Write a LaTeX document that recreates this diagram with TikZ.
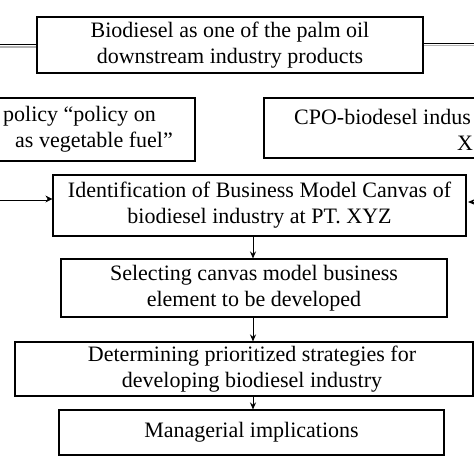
\documentclass[tikz,border=0pt]{standalone}
\usepackage{fontspec}
\setmainfont{Liberation Serif}
\usetikzlibrary{positioning,arrows.meta}

\begin{document}
\begin{tikzpicture}[
        x=1pt, y=-1pt,
        every node/.style={font=\fontsize{22}{26}\selectfont},
        box/.style={draw, line width=1.1pt, align=center, inner sep=0pt},
        cut/.style={inner sep=0pt, anchor=base west},
        arr/.style={-{Stealth[length=7pt, width=6pt]}, line width=1pt},
        dblarr/.style={-{Stealth[length=7pt, width=7pt]}, double, double distance=1.6pt, line width=0.7pt},
        link/.style={line width=1pt},
        shadow/.style={draw=black!30, line width=1.6pt}
    ]
    \useasboundingbox (0,0) rectangle (474,474);
    \clip (0,0) rectangle (474,474);

    \node[box, minimum width=386pt, minimum height=56pt] (biodiesel) at (230,45) {Biodiesel as one of the palm oil\\downstream industry products};

    \node[box, minimum width=265pt, minimum height=63pt] (policy) at (62.5,129.5) {};
    \node[cut] (policy1) at (3,121) {policy “policy on};
    \node[cut] (policy2) at (15,147) {as vegetable fuel”};

    \node[box, minimum width=276pt, minimum height=60pt] (cpo) at (402,128) {};
    \node[cut] (cpo1) at (294,124) {CPO-biodesel indus};
    \node[cut] (cpo2) at (457,150) {X};

    \node[box, minimum width=413pt, minimum height=61pt] (ident) at (259.5,205.5) {Identification of Business Model Canvas of\\biodiesel industry at PT. XYZ};
    \node[box, minimum width=386pt, minimum height=58pt] (select) at (254,288) {Selecting canvas model business\\element to be developed};
    \node[box, minimum width=458pt, minimum height=54pt] (determ) at (244,369) {\hspace{16pt}Determining prioritized strategies for\\\hspace{16pt}developing biodiesel industry};
    \node[box, minimum width=385pt, minimum height=45pt] (manag) at (251.5,432.5) {Managerial implications};

    % free ends at the page edges
    \coordinate (lefttop) at (-5,44);
    \coordinate (righttop) at (480,43.5);
    \coordinate (leftin) at (-5,199);
    \coordinate (rightin) at (480,202);
    \coordinate (axis) at (253,0);

    \draw[shadow] ([yshift=-3pt]lefttop) -- ([yshift=-3pt]lefttop -| biodiesel.west);
    \draw[link] (lefttop) -- (lefttop -| biodiesel.west);
    \draw[shadow] ([yshift=-2pt]righttop) -- ([yshift=-2pt]righttop -| biodiesel.east);
    \draw[link] (righttop) -- (righttop -| biodiesel.east);

    \draw[dblarr] (leftin) -- (leftin -| ident.west);
    \draw[arr] (rightin) -- ([xshift=1.5pt]rightin -| ident.east);

    \draw[arr] (ident.south -| axis) -- (select.north -| axis);
    \draw[arr] (select.south -| axis) -- (determ.north -| axis);
    \draw[arr] (determ.south -| axis) -- (manag.north -| axis);
\end{tikzpicture}
\end{document}
